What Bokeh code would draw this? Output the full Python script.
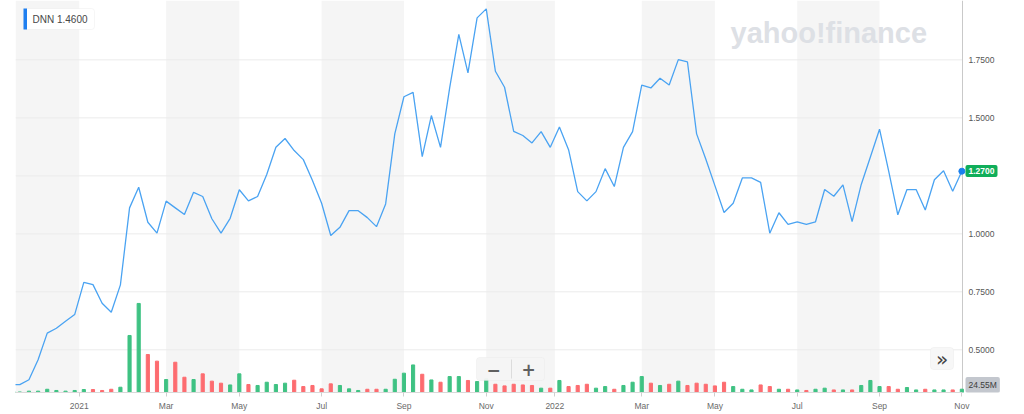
import pandas as pd
from bokeh.plotting import figure
from bokeh.models import (Range1d, LinearAxis, FixedTicker, BoxAnnotation, Label,
                          ColumnDataSource, Span)
from bokeh.core.properties import value
from bokeh.embed import file_html
from bokeh.resources import INLINE

# ---------------- data (weekly bars, DNN) ----------------
first_week = "2020-11-02"
prices = [0.350, 0.350, 0.371, 0.457, 0.572, 0.593, 0.623, 0.652, 0.791, 0.781,
          0.701, 0.662, 0.780, 1.112, 1.201, 1.050, 1.003, 1.141, 1.112, 1.083,
          1.179, 1.161, 1.065, 1.003, 1.067, 1.190, 1.142, 1.161, 1.256, 1.373,
          1.411, 1.359, 1.320, 1.230, 1.132, 0.993, 1.028, 1.100, 1.100, 1.070,
          1.031, 1.129, 1.431, 1.591, 1.610, 1.333, 1.510, 1.373, 1.629, 1.860,
          1.694, 1.931, 1.970, 1.701, 1.632, 1.442, 1.424, 1.392, 1.441, 1.373,
          1.461, 1.363, 1.182, 1.142, 1.182, 1.281, 1.204, 1.373, 1.441, 1.641,
          1.629, 1.671, 1.642, 1.751, 1.741, 1.431, 1.323, 1.208, 1.092, 1.132,
          1.241, 1.241, 1.222, 1.003, 1.091, 1.041, 1.052, 1.041, 1.052, 1.191,
          1.162, 1.211, 1.053, 1.213, 1.331, 1.451, 1.270, 1.082, 1.191, 1.191,
          1.103, 1.233, 1.272, 1.184, 1.270]
volumes_m = [4, 4, 10, 10, 24, 15, 10, 15, 22, 22,
             15, 24, 39, 422, 659, 281, 232, 96, 224, 113,
             96, 138, 84, 69, 56, 138, 59, 52, 76, 59,
             69, 91, 44, 52, 27, 64, 52, 27, 15, 24,
             24, 24, 98, 143, 204, 135, 93, 76, 118, 118,
             89, 81, 101, 61, 49, 61, 56, 52, 32, 32,
             89, 44, 52, 61, 32, 44, 24, 52, 76, 118,
             69, 52, 61, 84, 52, 69, 61, 49, 76, 44,
             24, 19, 56, 44, 24, 24, 19, 15, 24, 32,
             19, 19, 19, 52, 89, 44, 44, 24, 37, 19,
             24, 19, 19, 19, 24.55]
tick_dates = ["2020-12-24 12:00", "2021-03-01", "2021-04-26", "2021-06-28",
              "2021-08-30", "2021-11-01", "2021-12-23 12:00", "2022-02-28",
              "2022-04-25", "2022-06-27", "2022-08-29", "2022-10-31"]
tick_labels = ["2021", "Mar", "May", "Jul", "Sep", "Nov",
               "2022", "Mar", "May", "Jul", "Sep", "Nov"]
price_ticks = [0.5, 0.75, 1.0, 1.25, 1.5, 1.75]
ticker_name = "DNN"
shown_quote = "1.4600"

# ---------------- helpers ----------------
def ms(s):
    return int(pd.Timestamp(s).value // 10**6)

DAY = 86400000
dates = pd.date_range(first_week, periods=len(prices), freq="7D")
x_ms = [int(d.value // 10**6) for d in dates]
colors = ["#3fc283" if i == 0 or prices[i] >= prices[i - 1] else "#fd6c70"
          for i in range(len(prices))]
tick_ms = [ms(t) for t in tick_dates]

src = ColumnDataSource(dict(x=x_ms, price=prices, vol=volumes_m, color=colors))

x_start = ms("2020-11-05 17:00")       # left edge of the plot area
axis_edge = ms("2022-10-31 12:00")     # where the price scale sits
x_end = axis_edge + int(47.45 * DAY)   # room for the price scale labels

p = figure(width=1024, height=414, x_axis_type=None, y_axis_type=None,
           x_range=Range1d(x_start, x_end), y_range=Range1d(0.316, 2.006),
           output_backend="svg", toolbar_location=None,
           min_border_left=15, min_border_right=0, min_border_top=0,
           min_border_bottom=22)
p.outline_line_color = None
p.background_fill_color = "white"
p.extra_y_ranges = {"vol": Range1d(0, 2901)}
p.xgrid.visible = False
p.ygrid.visible = False

# alternating two-month bands
band_edges = [x_start] + tick_ms
for k in range(0, len(band_edges) - 1, 2):
    p.add_layout(BoxAnnotation(left=band_edges[k], right=band_edges[k + 1],
                               fill_color="#f5f5f5", fill_alpha=1.0,
                               line_color=None, level="image"))

# horizontal price grid (stops at the price scale)
p.segment(x0=[x_start] * len(price_ticks), x1=[axis_edge] * len(price_ticks),
          y0=price_ticks, y1=price_ticks, line_color="#ebebeb", line_width=1,
          level="underlay")

# price scale line and labels (the label hidden by the last-price badge is skipped)
p.add_layout(Span(location=axis_edge, dimension="height", line_color="#c9c9c9",
                  line_width=1, level="underlay"))
shown_ticks = [t for t in price_ticks if abs(t - prices[-1]) > 0.04]
p.text(x=[axis_edge] * len(shown_ticks), y=shown_ticks,
       text=[f"{t:.4f}" for t in shown_ticks], x_offset=6,
       text_baseline="middle", text_align="left",
       text_font=value("Liberation Sans"), text_font_size="8.5px",
       text_color="#555555")

# bottom date axis
xa = LinearAxis(ticker=FixedTicker(ticks=tick_ms), bounds=(x_start, axis_edge),
                major_label_overrides={t: l for t, l in zip(tick_ms, tick_labels)})
xa.axis_line_color = "#d9d9d9"
xa.major_tick_line_color = "#cfcfcf"
xa.major_tick_out = 4
xa.major_tick_in = 0
xa.minor_tick_line_color = None
xa.major_label_standoff = 4
xa.major_label_text_font = "Liberation Sans"
xa.major_label_text_font_size = "8.5px"
xa.major_label_text_color = "#6a6a6a"
p.add_layout(xa, "below")

# volume bars and price line
p.vbar(x="x", top="vol", width=2.4 * DAY, color="color", source=src,
       y_range_name="vol")
p.line(x="x", y="price", source=src, line_color="#4aa3f2", line_width=1.3)
p.scatter(x=[x_ms[-1]], y=[prices[-1]], size=6, color="#1a80ee")

# ---------------- overlays (screen units, frame origin bottom-left) ----------------
FL, FB = 15, 392   # frame left / bottom on page
def sx(px):
    return px - FL
def sy(py):
    return FB - py

def box(l, r, t, b, **kw):
    return BoxAnnotation(left=sx(l), right=sx(r), top=sy(t), bottom=sy(b),
                         left_units="screen", right_units="screen",
                         top_units="screen", bottom_units="screen", **kw)

# watermark
p.add_layout(Label(x=sx(730), y=sy(32), x_units="screen", y_units="screen",
                   text="yahoo!finance", text_font="Liberation Sans",
                   text_font_style="bold", text_font_size="29px",
                   text_color="#dde0e5", text_baseline="alphabetic"))

# quote box top-left
p.add_layout(box(23, 94, 8, 29, fill_color="white", fill_alpha=1.0,
                 line_color="#e2e2e2", border_radius=3))
p.add_layout(box(23, 26.5, 8, 29, fill_color="#1f7ff0", fill_alpha=1.0,
                 line_color=None))
p.add_layout(Label(x=sx(32), y=sy(19), x_units="screen", y_units="screen",
                   text=f"{ticker_name}  {shown_quote}", text_font="Liberation Sans",
                   text_font_size="10px", text_color="#474747",
                   text_baseline="middle"))

# zoom buttons
p.add_layout(box(476, 544, 357, 380, fill_color="#f4f4f4", fill_alpha=0.95,
                 line_color="#e6e6e6", border_radius=3))
p.add_layout(box(510.5, 511.5, 359, 378, fill_color="#dcdcdc", fill_alpha=1.0,
                 line_color=None))
p.add_layout(Label(x=sx(493), y=sy(368.5), x_units="screen", y_units="screen",
                   text="\u2212", text_font="DejaVu Sans", text_font_style="bold",
                   text_font_size="17px", text_color="#606060",
                   text_align="center", text_baseline="middle"))
p.add_layout(Label(x=sx(528), y=sy(368.5), x_units="screen", y_units="screen",
                   text="+", text_font="DejaVu Sans", text_font_style="bold",
                   text_font_size="17px", text_color="#606060",
                   text_align="center", text_baseline="middle"))

# ">>" button
p.add_layout(box(930, 953, 347, 369, fill_color="#f7f7f7", fill_alpha=1.0,
                 line_color="#e2e2e2", border_radius=3))
p.add_layout(Label(x=sx(941.5), y=sy(358), x_units="screen", y_units="screen",
                   text="\u00bb", text_font="DejaVu Sans",
                   text_font_size="20px", text_color="#444444",
                   text_align="center", text_baseline="middle"))

# price badge and volume badge on the price scale
p.add_layout(Label(x=sx(965), y=sy(170.5), x_units="screen", y_units="screen",
                   text=f"{prices[-1]:.4f}", text_font="Liberation Sans",
                   text_font_style="bold", text_font_size="8.5px",
                   text_color="white", text_baseline="middle",
                   background_fill_color="#10ae5a", background_fill_alpha=1.0,
                   padding=3, border_radius=2))
p.add_layout(Label(x=sx(965), y=sy(384.5), x_units="screen", y_units="screen",
                   text=f"{volumes_m[-1]:.2f}M", text_font="Liberation Sans",
                   text_font_size="8.5px", text_color="#3c3c3c",
                   text_baseline="middle",
                   background_fill_color="#c3c7ce", background_fill_alpha=1.0,
                   padding=3, border_radius=2))

open("out.html", "w").write(file_html(p, INLINE))
